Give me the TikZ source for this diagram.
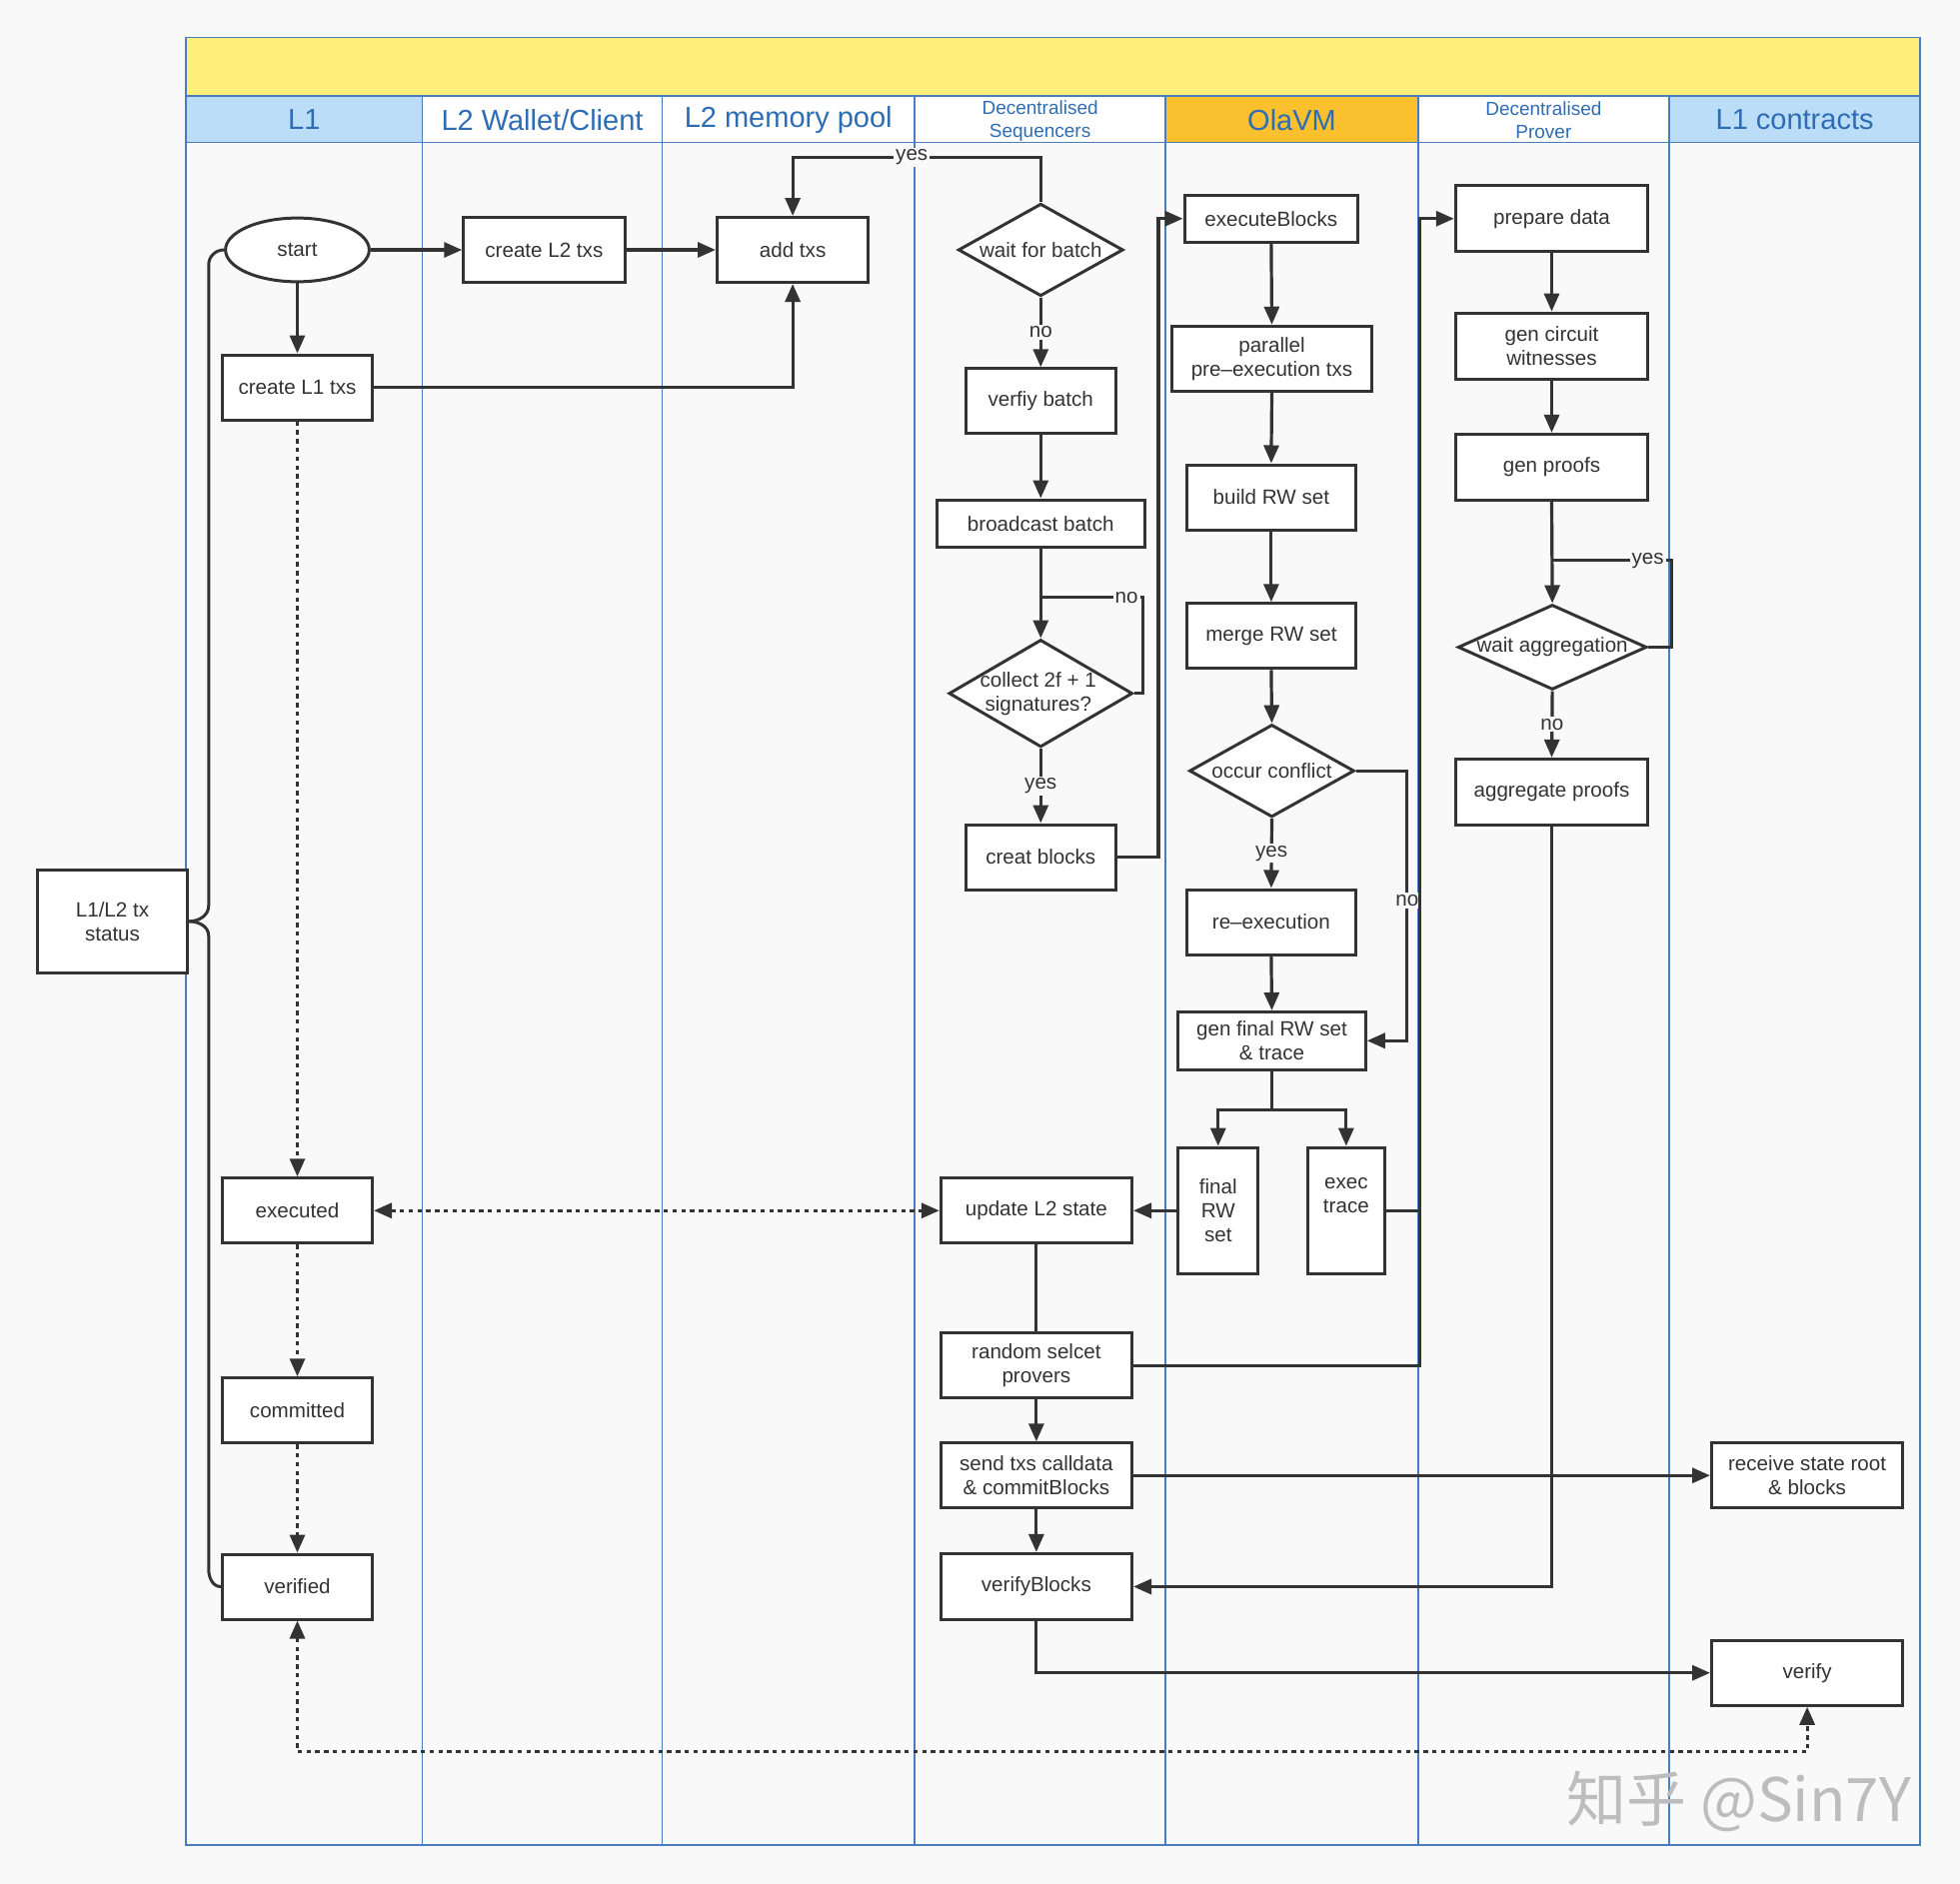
\documentclass[tikz,border=0pt]{standalone}
\usepackage{fontspec}
\setmainfont{Liberation Sans}
\newfontfamily\cjkwm{Noto Sans CJK SC}
\usetikzlibrary{arrows.meta,shapes.geometric,calc}
\definecolor{bg}{HTML}{F9F9F9}
\definecolor{ln}{HTML}{333333}
\definecolor{lanec}{HTML}{4A7CC0}
\definecolor{ttl}{HTML}{FFF07B}
\definecolor{hdb}{HTML}{BBDDF8}
\definecolor{hdo}{HTML}{FBC02D}
\definecolor{htx}{HTML}{2E6DB4}
\definecolor{wm}{HTML}{BDBDBD}
\newlength\uu \setlength\uu{0.625pt}
\begin{document}
\begin{tikzpicture}[x=0.625pt,y=0.625pt,
  nfont/.style={font=\fontsize{10.3}{12}\selectfont},
  box/.style={draw=ln, line width=1.5pt, fill=white, inner sep=1pt, align=center, nfont, text=ln},
  bxs/.style 2 args={box, minimum width=#1*\uu, minimum height=#2*\uu},
  dia/.style 2 args={shape=diamond, draw=ln, line width=1.5pt, fill=white, inner sep=0pt, minimum width=#1*\uu, minimum height=#2*\uu},
  txt/.style={nfont, text=ln, align=center, inner sep=0pt},
  conn/.style={draw=ln, line width=1.6pt},
  arr/.style={conn, -{Triangle[length=9pt,width=7.5pt]}},
  dot/.style={draw=ln, line width=1.6pt, dash pattern=on 2.2pt off 2.2pt},
  yn/.style={fill=bg, inner sep=1pt, nfont, text=ln},
  lanel/.style={draw=lanec, line width=0.8pt},
  hd/.style={text=htx, font=\fontsize{14.5}{16}\selectfont, inner sep=0pt},
  hds/.style={text=htx, font=\fontsize{9.5}{11.5}\selectfont, align=center, inner sep=0pt},
  brace/.style={draw=ln, line width=1.5pt}
]
% background and bounding box
\fill[bg] (0,0) rectangle (1568.8,-1508);
\useasboundingbox (0,0) rectangle (1568.8,-1508);
% pool
\fill[ttl] (149,-30) rectangle (1537,-77);
\fill[hdb] (149,-77) rectangle (338,-114);
\fill[white] (338,-77) rectangle (933,-114);
\fill[hdo] (933,-77) rectangle (1135,-114);
\fill[white] (1135,-77) rectangle (1336,-114);
\fill[hdb] (1336,-77) rectangle (1537,-114);
\draw[lanel] (149,-30) rectangle (1537,-1477);
\draw[lanel] (149,-77) -- (1537,-77);
\draw[lanel] (149,-114) -- (1537,-114);
\foreach \xx in {338,530,732,933,1135,1336} {\draw[lanel] (\xx,-77) -- (\xx,-1477);}
% headers
\node[hd] (h1) at (243.5,-96) {L1};
\node[hd] (h2) at (434,-96) {L2 Wallet/Client};
\node[hd] (h3) at (631,-96) {L2 memory pool};
\node[hds] (h4) at (832.5,-96.5) {Decentralised\\Sequencers};
\node[hd] (h5) at (1034,-96) {OlaVM};
\node[hds] (h6) at (1235.5,-96.5) {Decentralised\\Prover};
\node[hd] (h7) at (1436.5,-96) {L1 contracts};

% watermark
\node[text=wm, font=\cjkwm\fontsize{30}{30}\selectfont, inner sep=0pt] (wmk) at (1392,-1442) {知乎 @Sin7Y};

% L1 lane
\node[ellipse, draw=ln, line width=1.5pt, fill=white, inner sep=0pt, minimum width=115*\uu, minimum height=51*\uu, nfont, text=ln] (start) at (238,-200) {start};
\node[bxs={120}{52}] (cl1) at (238,-310) {create L1 txs};
\node[bxs={120}{52}] (exe) at (238,-969) {executed};
\node[bxs={120}{52}] (com) at (238,-1129) {committed};
\node[bxs={120}{52}] (ver) at (238,-1270) {verified};
\node[bxs={120}{83}] (sts) at (90,-737.5) {L1/L2 tx\\status};

% L2 wallet / pool
\node[bxs={129}{52}] (cl2) at (435.5,-200) {create L2 txs};
\node[bxs={121}{52}] (add) at (634.5,-200) {add txs};

% Sequencers
\node[dia={132}{74}] (wfb) at (833,-200) {};
\node[txt] (wfbt) at (wfb) {wait for batch};
\node[bxs={120}{52}] (vb) at (833,-321) {verfiy batch};
\node[bxs={166}{38}] (bb) at (833,-419) {broadcast batch};
\node[dia={147}{86}] (col) at (833,-555) {};
\node[txt] (colt) at (831,-555) {collect 2f + 1\\signatures?};
\node[bxs={120}{52}] (cb) at (833,-686) {creat blocks};
\node[bxs={153}{52}] (ul2) at (829.5,-969) {update L2 state};
\node[bxs={153}{52}] (rsp) at (829.5,-1093) {random selcet\\provers};
\node[bxs={153}{52}] (stc) at (829.5,-1181) {send txs calldata\\\& commitBlocks};
\node[bxs={153}{53}] (vbk) at (829.5,-1270) {verifyBlocks};

% OlaVM
\node[bxs={139}{38}] (eb) at (1017.5,-175) {executeBlocks};
\node[bxs={160}{52}] (ppe) at (1018,-287) {parallel\\pre–execution txs};
\node[bxs={135}{52}] (brw) at (1017.5,-398) {build RW set};
\node[bxs={135}{52}] (mrw) at (1017.5,-509) {merge RW set};
\node[dia={132}{74}] (occ) at (1018,-617) {};
\node[txt] (occt) at (occ) {occur conflict};
\node[bxs={135}{52}] (rex) at (1017.5,-738) {re–execution};
\node[bxs={150}{46}] (gfr) at (1018,-833) {gen final RW set\\\& trace};
\node[bxs={64}{101}] (frw) at (975,-969) {final\\RW\\set};
\node[bxs={61}{101}] (etr) at (1077.5,-969) {exec\\trace\\\strut};

% Prover
\node[bxs={154}{53}] (pd) at (1242,-175) {prepare data};
\node[bxs={154}{53}] (gcw) at (1242,-277) {gen circuit\\witnesses};
\node[bxs={154}{53}] (gp) at (1242,-374) {gen proofs};
\node[dia={151}{68}] (wag) at (1242.5,-518) {};
\node[txt] (wagt) at (wag) {wait aggregation};
\node[bxs={154}{53}] (agp) at (1242,-634) {aggregate proofs};

% L1 contracts
\node[bxs={153}{52}] (rsr) at (1446.5,-1181) {receive state root\\\& blocks};
\node[bxs={153}{52}] (vfy) at (1446.5,-1339) {verify};

% connectors L1 / L2
\draw[arr] (start.south) -- (cl1.north);
\draw[arr] (start.east) -- (cl2.west);
\draw[arr] (cl2.east) -- (add.west);
\draw[arr] (cl1.east) -| (add.south);

% sequencer
\draw[arr] (wfb.north) -- ++(0,36) -| node[pos=0.26, yn] {yes} (add.north);
\draw[arr] (wfb.south) -- node[yn] {no} (vb.north);
\draw[arr] (vb.south) -- (bb.north);
\draw[arr] (bb.south) -- (col.north);
\draw[conn] (col.east) -- ++(7,0) |- node[pos=0.58, yn] {no} ($(bb.south)+(0,-39)$);
\draw[arr] (col.south) -- node[yn] {yes} (cb.north);
\draw[arr] (cb.east) -- ++(33,0) |- (eb.west);

% OlaVM
\draw[arr] (eb.south) -- (ppe.north);
\draw[arr] (ppe.south) -- (brw.north);
\draw[arr] (brw.south) -- (mrw.north);
\draw[arr] (mrw.south) -- (occ.north);
\draw[arr] (occ.south) -- node[yn] {yes} (rex.north);
\draw[arr] (occ.east) -- ++(41,0) |- node[pos=0.24, yn] {no} (gfr.east);
\draw[arr] (rex.south) -- (gfr.north);
\draw[arr] (gfr.south) -- ++(0,-31) -| (frw.north);
\draw[arr] (gfr.south) -- ++(0,-31) -| (etr.north);
\draw[arr] (frw.west) -- (ul2.east);
\draw[arr] (etr.east) -- ++(27,0) |- (pd.west);
\draw[conn] (rsp.east) -| ($(etr.east)+(27,0)$);

% sequencer lower
\draw[conn] (ul2.south) -- (rsp.north);
\draw[arr] (rsp.south) -- (stc.north);
\draw[arr] (stc.south) -- (vbk.north);
\draw[arr] (stc.east) -- (rsr.west);
\draw[arr] (agp.south) |- (vbk.east);
\draw[arr] (vbk.south) |- (vfy.west);

% prover
\draw[arr] (pd.south) -- (gcw.north);
\draw[arr] (gcw.south) -- (gp.north);
\draw[arr] (gp.south) -- (wag.north);
\draw[conn] (wag.east) -- ++(19,0) |- node[pos=0.6, yn] {yes} ($(gp.south)+(0,-47)$);
\draw[arr] (wag.south) -- node[yn] {no} (agp.north);

% dotted status lines
\draw[dot, -{Triangle[length=9pt,width=7.5pt]}] (cl1.south) -- (exe.north);
\draw[dot, -{Triangle[length=9pt,width=7.5pt]}] (exe.south) -- (com.north);
\draw[dot, -{Triangle[length=9pt,width=7.5pt]}] (com.south) -- (ver.north);
\draw[dot, {Triangle[length=9pt,width=7.5pt]}-{Triangle[length=9pt,width=7.5pt]}] (exe.east) -- (ul2.west);
\draw[dot, {Triangle[length=9pt,width=7.5pt]}-{Triangle[length=9pt,width=7.5pt]}] (ver.south) -- ++(0,-105) -| (vfy.south);

% brace
\draw[brace] (start.west) to[out=180,in=90] (167,-212) -- (167,-725) to[out=-90,in=0] (sts.east);
\draw[brace] (sts.east) to[out=0,in=90] (167,-749) -- (167,-1256) to[out=-90,in=180] (ver.west);
\end{tikzpicture}
\end{document}
